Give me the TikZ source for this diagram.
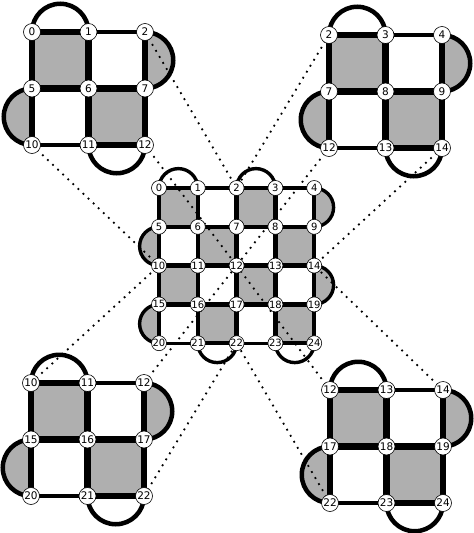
\documentclass[tikz,border=0pt]{standalone}
\usepackage{fontspec}
\setmainfont{DejaVu Sans}
\usetikzlibrary{backgrounds}
\definecolor{cellgray}{RGB}{175,175,175}
\tikzset{
  vtx/.style={circle,draw=black,line width=0.6pt,fill=white,inner sep=0pt,minimum size=17pt,font=\fontsize{10.5}{11}\selectfont},
  cvtx/.style={vtx,minimum size=15pt,font=\fontsize{10}{11}\selectfont},
  sthin/.style={line width=4.2pt},
  sthick/.style={line width=6.5pt},
  sarc/.style={line width=4.5pt},
  cthin/.style={line width=3.2pt},
  cthick/.style={line width=4.3pt},
  carc/.style={line width=3.4pt},
  shade/.style={fill=cellgray},
  dotline/.style={line width=1.8pt,dash pattern=on 1.8pt off 5.2pt}
}
\begin{document}
\begin{tikzpicture}[x=1pt,y=-1pt]
\useasboundingbox (0,0) rectangle (474,533);
% small grid nodes
\foreach \p/\ox/\oy/\base in {tl/32/32/0,tr/329/35/2,bl/31/383/10,br/330/390/12}{
  \foreach \r in {0,1,2}{
    \foreach \c in {0,1,2}{
      \pgfmathtruncatemacro{\lab}{\base+5*\r+\c}
      \node[vtx] (\p-\r-\c) at ({\ox+56.5*\c},{\oy+56.5*\r}) {\lab};
    }
  }
}
% central grid nodes
\foreach \r in {0,...,4}{
  \foreach \c in {0,...,4}{
    \pgfmathtruncatemacro{\lab}{5*\r+\c}
    \node[cvtx] (c-\r-\c) at ({159+38.8*\c},{188+38.8*\r}) {\lab};
  }
}
\begin{scope}[on background layer]
  % fills, small grids
  \foreach \p in {tl,tr,bl,br}{
    \fill[shade] (\p-0-0.center) rectangle (\p-1-1.center);
    \fill[shade] (\p-1-1.center) rectangle (\p-2-2.center);
    \fill[shade] (\p-0-2.center) arc[start angle=-90,end angle=90,radius=28.25] -- cycle;
    \fill[shade] (\p-1-0.center) arc[start angle=-90,end angle=-270,radius=28.25] -- cycle;
  }
  % fills, central grid
  \foreach \r/\c in {0/0,0/2,1/1,1/3,2/0,2/2,3/1,3/3}{
    \pgfmathtruncatemacro{\rr}{\r+1}
    \pgfmathtruncatemacro{\cc}{\c+1}
    \fill[shade] (c-\r-\c.center) rectangle (c-\rr-\cc.center);
  }
  \foreach \r in {0,2}{
    \fill[shade] (c-\r-4.center) arc[start angle=-90,end angle=90,radius=19.4] -- cycle;
  }
  \foreach \r in {1,3}{
    \fill[shade] (c-\r-0.center) arc[start angle=-90,end angle=-270,radius=19.4] -- cycle;
  }
  % dotted correspondence lines
  \draw[dotline] (tl-0-2.center) -- (c-0-2.center);
  \draw[dotline] (tl-2-0.center) -- (c-2-0.center);
  \draw[dotline] (tl-2-2.center) -- (c-2-2.center);
  \draw[dotline] (tr-0-0.center) -- (c-0-2.center);
  \draw[dotline] (tr-2-0.center) -- (c-2-2.center);
  \draw[dotline] (tr-2-2.center) -- (c-2-4.center);
  \draw[dotline] (bl-0-0.center) -- (c-2-0.center);
  \draw[dotline] (bl-0-2.center) -- (c-2-2.center);
  \draw[dotline] (bl-2-2.center) -- (c-4-2.center);
  \draw[dotline] (br-0-0.center) -- (c-2-2.center);
  \draw[dotline] (br-0-2.center) -- (c-2-4.center);
  \draw[dotline] (br-2-0.center) -- (c-4-2.center);
  % small grid edges and arcs
  \foreach \p in {tl,tr,bl,br}{
    \foreach \k in {0,1,2}{
      \draw[sthin] (\p-\k-0.center) -- (\p-\k-1.center) -- (\p-\k-2.center);
      \draw[sthin] (\p-0-\k.center) -- (\p-1-\k.center) -- (\p-2-\k.center);
    }
    \draw[sthick] (\p-0-0.center) rectangle (\p-1-1.center);
    \draw[sthick] (\p-1-1.center) rectangle (\p-2-2.center);
    \draw[sthick] (\p-0-2.center) -- (\p-1-2.center);
    \draw[sthick] (\p-1-0.center) -- (\p-2-0.center);
    \draw[sarc] (\p-0-2.center) arc[start angle=-90,end angle=90,radius=28.25];
    \draw[sarc] (\p-1-0.center) arc[start angle=-90,end angle=-270,radius=28.25];
    \draw[sarc] (\p-0-0.center) arc[start angle=180,end angle=360,radius=28.25];
    \draw[sarc] (\p-2-1.center) arc[start angle=180,end angle=0,radius=28.25];
  }
  % central grid edges
  \foreach \k in {0,...,4}{
    \draw[cthin] (c-\k-0.center) -- (c-\k-4.center);
    \draw[cthin] (c-0-\k.center) -- (c-4-\k.center);
  }
  \foreach \r/\c in {0/0,0/2,1/1,1/3,2/0,2/2,3/1,3/3}{
    \pgfmathtruncatemacro{\rr}{\r+1}
    \pgfmathtruncatemacro{\cc}{\c+1}
    \draw[cthick] (c-\r-\c.center) rectangle (c-\rr-\cc.center);
  }
  \draw[cthick] (c-0-4.center) -- (c-1-4.center);
  \draw[cthick] (c-2-4.center) -- (c-3-4.center);
  \draw[cthick] (c-1-0.center) -- (c-2-0.center);
  \draw[cthick] (c-3-0.center) -- (c-4-0.center);
  % central arcs
  \foreach \k in {0,2}{
    \draw[carc] (c-0-\k.center) arc[start angle=180,end angle=360,radius=19.4];
    \draw[carc] (c-\k-4.center) arc[start angle=-90,end angle=90,radius=19.4];
  }
  \foreach \k in {1,3}{
    \draw[carc] (c-\k-0.center) arc[start angle=-90,end angle=-270,radius=19.4];
    \draw[carc] (c-4-\k.center) arc[start angle=180,end angle=0,radius=19.4];
  }
\end{scope}
\end{tikzpicture}
\end{document}
